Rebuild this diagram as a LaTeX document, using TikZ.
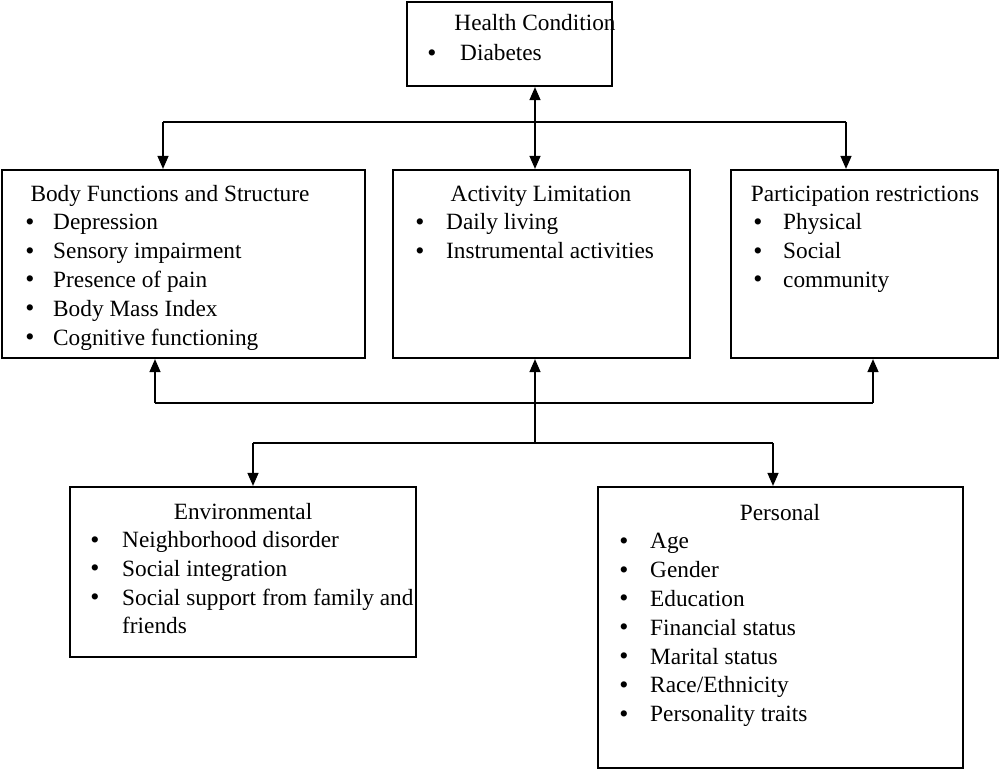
\documentclass[tikz,border=0pt]{standalone}
\usepackage{fontspec}
\setmainfont{Liberation Serif}
\usetikzlibrary{arrows.meta}
\begin{document}
\begin{tikzpicture}[x=1pt,y=-1pt,
 box/.style={draw,line width=2.2pt,inner sep=0pt},
 txt/.style={anchor=base west,inner sep=0pt,font=\fontsize{23.3}{27}\selectfont},
 ttl/.style={anchor=base,inner sep=0pt,font=\fontsize{23.3}{27}\selectfont},
 bul/.style={anchor=base,inner sep=0pt,font=\fontsize{26}{26}\selectfont},
 con/.style={line width=1.3pt},
 arr/.style={con,-{Triangle[length=13pt,width=11pt]}}]
\useasboundingbox (0,0) rectangle (1000,770);
% boxes
\node[box,minimum width=205pt,minimum height=84pt] (hc) at (509.5,44) {};
\node[box,minimum width=363pt,minimum height=188pt] (bf) at (183.5,264) {};
\node[box,minimum width=297pt,minimum height=188pt] (al) at (541.5,264) {};
\node[box,minimum width=267pt,minimum height=188pt] (pr) at (864.5,264) {};
\node[box,minimum width=346pt,minimum height=170pt] (en) at (243,572) {};
\node[box,minimum width=365pt,minimum height=281pt] (pe) at (780.5,627.5) {};
% texts
\node[ttl] (t1) at (535,31) {Health Condition};
\node[bul] (b1) at (432,61.5) {•};
\node[txt] (x1) at (460,61) {Diabetes};
\node[ttl] (t2) at (170,201) {Body Functions and Structure};
\foreach \t [count=\i] in {Depression,Sensory impairment,Presence of pain,Body Mass Index,Cognitive functioning}{
 \node[bul] (bb\i) at (30,{201.5+28.8*\i}) {•};
 \node[txt] (bt\i) at (53,{201+28.8*\i}) {\t};}
\node[ttl] (t3) at (541,201) {Activity Limitation};
\foreach \t [count=\i] in {Daily living,Instrumental activities}{
 \node[bul] (ab\i) at (420,{201.5+28.8*\i}) {•};
 \node[txt] (at\i) at (446,{201+28.8*\i}) {\t};}
\node[ttl] (t4) at (865,201) {Participation restrictions};
\foreach \t [count=\i] in {Physical,Social,community}{
 \node[bul] (pb\i) at (758,{201.5+28.8*\i}) {•};
 \node[txt] (pt\i) at (783,{201+28.8*\i}) {\t};}
\node[ttl] (t5) at (243,519) {Environmental};
\foreach \t [count=\i] in {Neighborhood disorder,Social integration,Social support from family and}{
 \node[bul] (eb\i) at (95,{519.5+28.7*\i}) {•};
 \node[txt] (et\i) at (122,{519+28.7*\i}) {\t};}
\node[txt] (et4) at (122,{519+28.7*4}) {friends};
\node[ttl] (t6) at (780,520) {Personal};
\foreach \t [count=\i] in {Age,Gender,Education,Financial status,Marital status,Race/Ethnicity,Personality traits}{
 \node[bul] (qb\i) at (624,{520.5+28.8*\i}) {•};
 \node[txt] (qt\i) at (650,{520+28.8*\i}) {\t};}
% connectors
\coordinate (j1) at (535,122);
\coordinate (j3) at (535,443);
\draw[con,{Triangle[length=13pt,width=11pt]}-{Triangle[length=13pt,width=11pt]}] (j1 |- hc.south) -- (j1 |- al.north);
\draw[con] (163,122) -- (846,122);
\draw[arr] (163,122) -- (163,0 |- bf.north);
\draw[arr] (846,122) -- (846,0 |- pr.north);
\draw[con] (155,403) -- (873,403);
\draw[arr] (155,403) -- (155,0 |- bf.south);
\draw[arr] (873,403) -- (873,0 |- pr.south);
\draw[arr] (j3) -- (j3 |- al.south);
\draw[con] (253,443) -- (773,443);
\draw[arr] (253,443) -- (253,0 |- en.north);
\draw[arr] (773,443) -- (773,0 |- pe.north);
\end{tikzpicture}
\end{document}
